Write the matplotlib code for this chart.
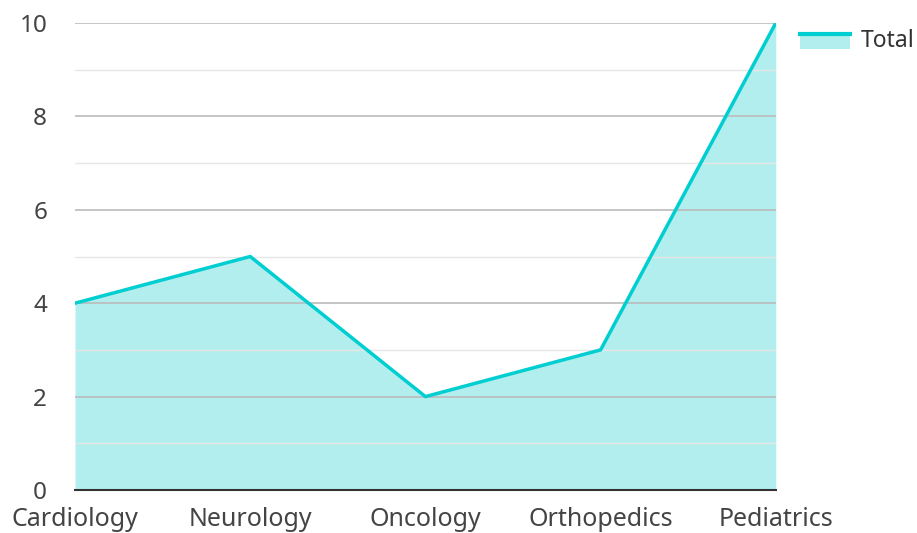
import matplotlib
matplotlib.use('Agg')
import matplotlib.pyplot as plt
from matplotlib.patches import Rectangle
from matplotlib.lines import Line2D
from matplotlib.legend_handler import HandlerBase

plt.rcParams['font.family'] = ['Noto Sans', 'DejaVu Sans']
plt.rcParams['font.size'] = 16

departments = ['Cardiology', 'Neurology', 'Oncology', 'Orthopedics', 'Pediatrics']
total = [4, 5, 2, 3, 10]

line_color = '#00CED1'
fill_color = '#B2EEEE'
text_color = '#444444'


class AreaHandler(HandlerBase):
    def create_artists(self, legend, orig_handle, xdescent, ydescent,
                       width, height, fontsize, trans):
        top = -ydescent + height * 0.8
        rect = Rectangle((-xdescent, top - height * 0.95), width, height * 0.95,
                         facecolor=fill_color, edgecolor='none', transform=trans)
        ln = Line2D([-xdescent, -xdescent + width], [top, top],
                    color=line_color, lw=3, transform=trans)
        return [rect, ln]


fig = plt.figure(figsize=(9.17, 5.33), dpi=100)
ax = fig.add_axes([0.0818, 0.0807, 0.846 - 0.0818, 0.9568 - 0.0807])

x = list(range(len(departments)))
ax.fill_between(x, total, 0, color=fill_color, lw=0, zorder=1)
ax.plot(x, total, color=line_color, lw=2.5, zorder=3)

ax.set_xlim(0, len(departments) - 1)
ax.set_ylim(0, 10)
ax.set_yticks([0, 2, 4, 6, 8, 10])
ax.set_yticks([1, 3, 5, 7, 9], minor=True)
ax.set_xticks(x)
ax.set_xticklabels(departments)

# grid drawn over the fill (axisbelow False -> zorder 2.5)
ax.set_axisbelow(False)
ax.grid(axis='y', which='major', color='#bbbbbb', lw=1.2)
ax.grid(axis='y', which='minor', color='#e6e6e6', lw=1.0)

for s in ['left', 'right', 'top']:
    ax.spines[s].set_visible(False)
ax.spines['bottom'].set_color('#333333')
ax.spines['bottom'].set_linewidth(1.5)
ax.spines['bottom'].set_zorder(4)

ax.tick_params(axis='both', which='both', length=0, colors=text_color, labelsize=18)
ax.tick_params(axis='y', labelsize=17.5, pad=20)
ax.tick_params(axis='x', pad=12)

ax.legend([object()], ['Total'], handler_map={object: AreaHandler()},
          loc='upper left', bbox_to_anchor=(800 / 917, 1 - 29 / 533),
          bbox_transform=fig.transFigure, frameon=False,
          borderpad=0, borderaxespad=0,
          handlelength=2.2, handletextpad=0.45, labelcolor='#333333', fontsize=16.5)

fig.savefig('out.png', dpi=100)
